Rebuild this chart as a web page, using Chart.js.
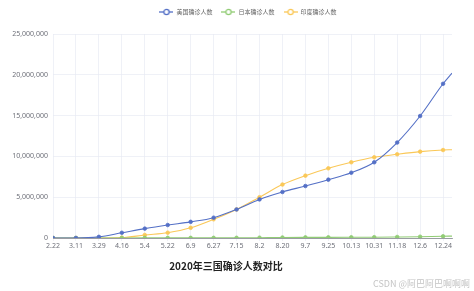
<!DOCTYPE html>
<html>
<head>
<meta charset="utf-8">
<script src="https://cdn.jsdelivr.net/npm/chart.js@4"></script>
<style>
  html, body { margin: 0; padding: 0; background: #fff; }
  #wrap { position: relative; width: 474px; height: 291px; }
</style>
</head>
<body>
<div id="wrap"><canvas id="myChart" width="474" height="291"></canvas></div>
<script>
// 데이터
var dates = ['2.22', '3.11', '3.29', '4.16', '5.4', '5.22', '6.9', '6.27', '7.15', '8.2',
             '8.20', '9.7', '9.25', '10.13', '10.31', '11.18', '12.6', '12.24', '12.31'];
var tickLabels = ['2.22', '3.11', '3.29', '4.16', '5.4', '5.22', '6.9', '6.27', '7.15', '8.2',
                  '8.20', '9.7', '9.25', '10.13', '10.31', '11.18', '12.6', '12.24'];
var usCases = [15, 1000, 140000, 640000, 1150000, 1590000, 1980000, 2490000, 3500000, 4730000,
               5640000, 6370000, 7150000, 8000000, 9280000, 11700000, 14950000, 18900000, 20200000];
var japanCases = [0, 600, 2000, 9000, 15000, 16500, 17000, 18000, 22000, 39000,
                  59000, 72000, 80000, 89000, 100000, 127000, 160000, 210000, 235000];
var indiaCases = [3, 60, 1100, 40000, 370000, 650000, 1250000, 2290000, 3500000, 5000000,
                  6550000, 7640000, 8540000, 9280000, 9890000, 10260000, 10580000, 10780000, 10820000];
var seriesNames = ['美国确诊人数', '日本确诊人数', '印度确诊人数'];

var colors = ['#5470c6', '#91cc75', '#fac858'];

function dayIndex(s) {
    var p = s.split('.').map(Number);
    return (Date.UTC(2020, p[0] - 1, p[1]) - Date.UTC(2020, 1, 22)) / 86400000;
}

function toPoints(values) {
    return values.map(function (v, i) { return { x: dayIndex(dates[i]), y: v }; });
}

// 범례 아이콘: 선 + 빈 원
function legendIcon(color) {
    var c = document.createElement('canvas');
    c.width = 14; c.height = 8;
    var g = c.getContext('2d');
    g.strokeStyle = color;
    g.lineWidth = 1.3;
    g.beginPath(); g.moveTo(0, 4); g.lineTo(14, 4); g.stroke();
    g.beginPath(); g.arc(7, 4, 2.6, 0, Math.PI * 2);
    g.fillStyle = '#fff'; g.fill(); g.stroke();
    return c;
}

var lastIdx = dates.length - 1;
function makeSet(i, values) {
    return {
        label: seriesNames[i],
        data: toPoints(values),
        borderColor: colors[i],
        backgroundColor: colors[i],
        borderWidth: 1.1,
        pointRadius: function (ctx) { return ctx.dataIndex === lastIdx ? 0 : 1.8; },
        pointBorderWidth: 0.8,
        cubicInterpolationMode: 'monotone',
        fill: false
    };
}

// 범례 높이 고정 + 가운데로 이동
var legendFix = {
    id: 'legendFix',
    beforeInit: function (chart) {
        var lg = chart.legend;
        var orig = lg.fit;
        lg.fit = function () { orig.call(this); this.height = 34; };
    },
    afterLayout: function (chart) {
        chart.legend.left += 22;
        chart.legend.right += 22;
    }
};

var watermark = {
    id: 'watermark',
    afterDraw: function (chart) {
        var c = chart.ctx;
        c.save();
        c.font = '9px "Noto Sans CJK SC", sans-serif';
        c.fillStyle = '#c4c4c4';
        c.textAlign = 'right';
        c.textBaseline = 'middle';
        c.fillText('CSDN @阿巴阿巴啊啊啊', 470, 284);
        c.restore();
    }
};

var ctx = document.getElementById('myChart').getContext('2d');
var myChart = new Chart(ctx, {
    type: 'line',
    data: {
        datasets: [makeSet(0, usCases), makeSet(1, japanCases), makeSet(2, indiaCases)]
    },
    options: {
        responsive: false,
        animation: false,
        layout: { padding: { left: 0, right: 22, top: 0, bottom: 19 } },
        plugins: {
            legend: {
                position: 'top',
                labels: {
                    usePointStyle: true,
                    pointStyleWidth: 14,
                    boxHeight: 7,
                    padding: 9,
                    color: '#666',
                    font: { size: 6, family: '"Noto Sans CJK SC", sans-serif' },
                    generateLabels: function (chart) {
                        return chart.data.datasets.map(function (ds, i) {
                            return {
                                text: ds.label,
                                pointStyle: legendIcon(colors[i]),
                                fillStyle: colors[i],
                                strokeStyle: colors[i],
                                fontColor: '#666',
                                hidden: false,
                                datasetIndex: i
                            };
                        });
                    }
                }
            },
            title: {
                display: true,
                position: 'bottom',
                text: '2020年三国确诊人数对比',
                color: '#222',
                font: { size: 10, weight: 'bold', family: '"Noto Sans CJK SC", sans-serif' },
                padding: { top: 8, bottom: 0 }
            },
            tooltip: { enabled: false }
        },
        scales: {
            x: {
                type: 'linear',
                min: 0,
                max: dayIndex('12.31'),
                afterBuildTicks: function (axis) {
                    axis.ticks = tickLabels.map(function (t) { return { value: dayIndex(t) }; });
                },
                afterFit: function (axis) { axis.height = 14; },
                grid: { color: '#e8ebf3', lineWidth: 0.7, tickLength: 3, drawTicks: true },
                border: { color: '#9a9ca3' },
                ticks: {
                    autoSkip: false,
                    maxRotation: 0,
                    padding: 1,
                    color: '#6e7079',
                    font: { size: 7, family: '"Noto Sans", sans-serif' },
                    callback: function (v, i) { return tickLabels[i]; }
                }
            },
            y: {
                min: 0,
                max: 25000000,
                afterFit: function (axis) { axis.width = 53; },
                grid: { color: '#e8ebf3', lineWidth: 0.7, drawTicks: false },
                border: { display: false },
                ticks: {
                    stepSize: 5000000,
                    padding: 5,
                    color: '#6e7079',
                    font: { size: 7, family: '"Noto Sans", sans-serif' },
                    callback: function (v) { return v.toLocaleString('en-US'); }
                }
            }
        }
    },
    plugins: [legendFix, watermark]
});
</script>
</body>
</html>
